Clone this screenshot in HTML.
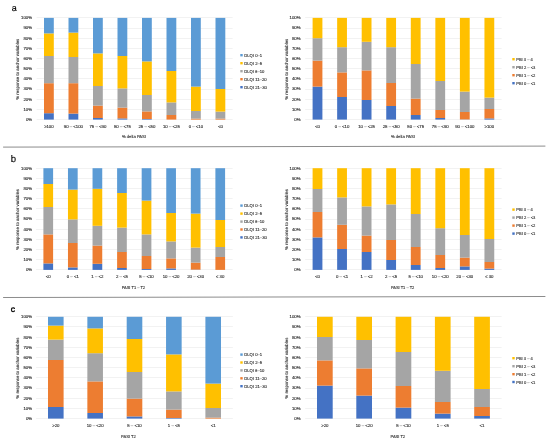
<!DOCTYPE html>
<html lang="en"><head><meta charset="utf-8"><title>Figure</title>
<style>
html,body{margin:0;padding:0;background:#fff}
svg{display:block}
text{text-rendering:geometricPrecision}
.t{font-family:"Liberation Sans",sans-serif;font-size:4.3px;fill:#2e2e2e;stroke:#2e2e2e;stroke-width:0.12px}
.p{font-family:"Liberation Sans",sans-serif;font-size:9.5px;fill:#000;stroke:#000;stroke-width:0.15px}
</style></head><body>
<svg width="550" height="443" viewBox="0 0 550 443">
<rect width="550" height="443" fill="#fff"/>
<line x1="36.6" x2="232.6" y1="119.5" y2="119.5" stroke="#f2f2f2" stroke-width="1"/>
<text x="32.1" y="121" text-anchor="end" class="t">0%</text>
<line x1="36.6" x2="232.6" y1="109.5" y2="109.5" stroke="#f2f2f2" stroke-width="1"/>
<text x="32.1" y="110.83" text-anchor="end" class="t">10%</text>
<line x1="36.6" x2="232.6" y1="99.5" y2="99.5" stroke="#f2f2f2" stroke-width="1"/>
<text x="32.1" y="100.66" text-anchor="end" class="t">20%</text>
<line x1="36.6" x2="232.6" y1="89.5" y2="89.5" stroke="#f2f2f2" stroke-width="1"/>
<text x="32.1" y="90.49" text-anchor="end" class="t">30%</text>
<line x1="36.6" x2="232.6" y1="78.5" y2="78.5" stroke="#f2f2f2" stroke-width="1"/>
<text x="32.1" y="80.32" text-anchor="end" class="t">40%</text>
<line x1="36.6" x2="232.6" y1="68.5" y2="68.5" stroke="#f2f2f2" stroke-width="1"/>
<text x="32.1" y="70.15" text-anchor="end" class="t">50%</text>
<line x1="36.6" x2="232.6" y1="58.5" y2="58.5" stroke="#f2f2f2" stroke-width="1"/>
<text x="32.1" y="59.98" text-anchor="end" class="t">60%</text>
<line x1="36.6" x2="232.6" y1="48.5" y2="48.5" stroke="#f2f2f2" stroke-width="1"/>
<text x="32.1" y="49.81" text-anchor="end" class="t">70%</text>
<line x1="36.6" x2="232.6" y1="38.5" y2="38.5" stroke="#f2f2f2" stroke-width="1"/>
<text x="32.1" y="39.64" text-anchor="end" class="t">80%</text>
<line x1="36.6" x2="232.6" y1="28.5" y2="28.5" stroke="#f2f2f2" stroke-width="1"/>
<text x="32.1" y="29.47" text-anchor="end" class="t">90%</text>
<line x1="36.6" x2="232.6" y1="17.5" y2="17.5" stroke="#f2f2f2" stroke-width="1"/>
<text x="32.1" y="19.3" text-anchor="end" class="t">100%</text>
<rect x="44" y="113.2" width="9.8" height="6.4" fill="#4472c4"/>
<rect x="44" y="83.2" width="9.8" height="30" fill="#ed7d31"/>
<rect x="44" y="56" width="9.8" height="27.2" fill="#a5a5a5"/>
<rect x="44" y="33.4" width="9.8" height="22.6" fill="#ffc000"/>
<rect x="44" y="17.9" width="9.8" height="15.5" fill="#5b9bd5"/>
<text x="48.9" y="127.65" text-anchor="middle" class="t">≥100</text>
<rect x="68.5" y="113.6" width="9.8" height="6" fill="#4472c4"/>
<rect x="68.5" y="83.2" width="9.8" height="30.4" fill="#ed7d31"/>
<rect x="68.5" y="57" width="9.8" height="26.2" fill="#a5a5a5"/>
<rect x="68.5" y="32.6" width="9.8" height="24.4" fill="#ffc000"/>
<rect x="68.5" y="17.9" width="9.8" height="14.7" fill="#5b9bd5"/>
<text x="73.4" y="127.65" text-anchor="middle" class="t">90 – &lt;100</text>
<rect x="93" y="118" width="9.8" height="1.6" fill="#4472c4"/>
<rect x="93" y="105.6" width="9.8" height="12.4" fill="#ed7d31"/>
<rect x="93" y="86" width="9.8" height="19.6" fill="#a5a5a5"/>
<rect x="93" y="53.4" width="9.8" height="32.6" fill="#ffc000"/>
<rect x="93" y="17.9" width="9.8" height="35.5" fill="#5b9bd5"/>
<text x="97.9" y="127.65" text-anchor="middle" class="t">75 – &lt;90</text>
<rect x="117.5" y="118.4" width="9.8" height="1.2" fill="#4472c4"/>
<rect x="117.5" y="107.6" width="9.8" height="10.8" fill="#ed7d31"/>
<rect x="117.5" y="88.4" width="9.8" height="19.2" fill="#a5a5a5"/>
<rect x="117.5" y="56" width="9.8" height="32.4" fill="#ffc000"/>
<rect x="117.5" y="17.9" width="9.8" height="38.1" fill="#5b9bd5"/>
<text x="122.4" y="127.65" text-anchor="middle" class="t">50 – &lt;75</text>
<rect x="142" y="119" width="9.8" height="0.6" fill="#4472c4"/>
<rect x="142" y="111.4" width="9.8" height="7.6" fill="#ed7d31"/>
<rect x="142" y="95" width="9.8" height="16.4" fill="#a5a5a5"/>
<rect x="142" y="61.4" width="9.8" height="33.6" fill="#ffc000"/>
<rect x="142" y="17.9" width="9.8" height="43.5" fill="#5b9bd5"/>
<text x="146.9" y="127.65" text-anchor="middle" class="t">25 – &lt;50</text>
<rect x="166.5" y="115" width="9.8" height="4.6" fill="#ed7d31"/>
<rect x="166.5" y="102.4" width="9.8" height="12.6" fill="#a5a5a5"/>
<rect x="166.5" y="71" width="9.8" height="31.4" fill="#ffc000"/>
<rect x="166.5" y="17.9" width="9.8" height="53.1" fill="#5b9bd5"/>
<text x="171.4" y="127.65" text-anchor="middle" class="t">10 – &lt;25</text>
<rect x="191" y="118.6" width="9.8" height="1" fill="#ed7d31"/>
<rect x="191" y="111" width="9.8" height="7.6" fill="#a5a5a5"/>
<rect x="191" y="86.6" width="9.8" height="24.4" fill="#ffc000"/>
<rect x="191" y="17.9" width="9.8" height="68.7" fill="#5b9bd5"/>
<text x="195.9" y="127.65" text-anchor="middle" class="t">0 – &lt;10</text>
<rect x="215.5" y="118.6" width="9.8" height="1" fill="#ed7d31"/>
<rect x="215.5" y="111.6" width="9.8" height="7" fill="#a5a5a5"/>
<rect x="215.5" y="89" width="9.8" height="22.6" fill="#ffc000"/>
<rect x="215.5" y="17.9" width="9.8" height="71.1" fill="#5b9bd5"/>
<text x="220.4" y="127.65" text-anchor="middle" class="t">&lt;0</text>
<text transform="translate(18.5 69.25) rotate(-90)" text-anchor="middle" class="t" textLength="61" lengthAdjust="spacingAndGlyphs">% response to anchor variables</text>
<text x="134" y="138.1" text-anchor="middle" class="t" textLength="24" lengthAdjust="spacingAndGlyphs">% delta PASI</text>
<rect x="240.3" y="54" width="2.4" height="2.4" fill="#5b9bd5"/>
<text x="244.2" y="56.8" class="t" textLength="18" lengthAdjust="spacingAndGlyphs">DLQI 0–1</text>
<rect x="240.3" y="62" width="2.4" height="2.4" fill="#ffc000"/>
<text x="244.2" y="64.8" class="t" textLength="18" lengthAdjust="spacingAndGlyphs">DLQI 2–5</text>
<rect x="240.3" y="70" width="2.4" height="2.4" fill="#a5a5a5"/>
<text x="244.2" y="72.8" class="t" textLength="20.2" lengthAdjust="spacingAndGlyphs">DLQI 6–10</text>
<rect x="240.3" y="78" width="2.4" height="2.4" fill="#ed7d31"/>
<text x="244.2" y="80.8" class="t" textLength="22.4" lengthAdjust="spacingAndGlyphs">DLQI 11–20</text>
<rect x="240.3" y="86" width="2.4" height="2.4" fill="#4472c4"/>
<text x="244.2" y="88.8" class="t" textLength="22.6" lengthAdjust="spacingAndGlyphs">DLQI 21–30</text>
<line x1="305.2" x2="501.6" y1="119.5" y2="119.5" stroke="#f2f2f2" stroke-width="1"/>
<text x="300.5" y="121" text-anchor="end" class="t">0%</text>
<line x1="305.2" x2="501.6" y1="109.5" y2="109.5" stroke="#f2f2f2" stroke-width="1"/>
<text x="300.5" y="110.83" text-anchor="end" class="t">10%</text>
<line x1="305.2" x2="501.6" y1="99.5" y2="99.5" stroke="#f2f2f2" stroke-width="1"/>
<text x="300.5" y="100.66" text-anchor="end" class="t">20%</text>
<line x1="305.2" x2="501.6" y1="89.5" y2="89.5" stroke="#f2f2f2" stroke-width="1"/>
<text x="300.5" y="90.49" text-anchor="end" class="t">30%</text>
<line x1="305.2" x2="501.6" y1="78.5" y2="78.5" stroke="#f2f2f2" stroke-width="1"/>
<text x="300.5" y="80.32" text-anchor="end" class="t">40%</text>
<line x1="305.2" x2="501.6" y1="68.5" y2="68.5" stroke="#f2f2f2" stroke-width="1"/>
<text x="300.5" y="70.15" text-anchor="end" class="t">50%</text>
<line x1="305.2" x2="501.6" y1="58.5" y2="58.5" stroke="#f2f2f2" stroke-width="1"/>
<text x="300.5" y="59.98" text-anchor="end" class="t">60%</text>
<line x1="305.2" x2="501.6" y1="48.5" y2="48.5" stroke="#f2f2f2" stroke-width="1"/>
<text x="300.5" y="49.81" text-anchor="end" class="t">70%</text>
<line x1="305.2" x2="501.6" y1="38.5" y2="38.5" stroke="#f2f2f2" stroke-width="1"/>
<text x="300.5" y="39.64" text-anchor="end" class="t">80%</text>
<line x1="305.2" x2="501.6" y1="28.5" y2="28.5" stroke="#f2f2f2" stroke-width="1"/>
<text x="300.5" y="29.47" text-anchor="end" class="t">90%</text>
<line x1="305.2" x2="501.6" y1="17.5" y2="17.5" stroke="#f2f2f2" stroke-width="1"/>
<text x="300.5" y="19.3" text-anchor="end" class="t">100%</text>
<rect x="312.6" y="86.6" width="9.8" height="33" fill="#4472c4"/>
<rect x="312.6" y="60.6" width="9.8" height="26" fill="#ed7d31"/>
<rect x="312.6" y="38.2" width="9.8" height="22.4" fill="#a5a5a5"/>
<rect x="312.6" y="17.9" width="9.8" height="20.3" fill="#ffc000"/>
<text x="317.5" y="127.65" text-anchor="middle" class="t">&lt;0</text>
<rect x="337.15" y="97" width="9.8" height="22.6" fill="#4472c4"/>
<rect x="337.15" y="72.4" width="9.8" height="24.6" fill="#ed7d31"/>
<rect x="337.15" y="47.2" width="9.8" height="25.2" fill="#a5a5a5"/>
<rect x="337.15" y="17.9" width="9.8" height="29.3" fill="#ffc000"/>
<text x="342.05" y="127.65" text-anchor="middle" class="t">0 – &lt;10</text>
<rect x="361.7" y="100" width="9.8" height="19.6" fill="#4472c4"/>
<rect x="361.7" y="70.4" width="9.8" height="29.6" fill="#ed7d31"/>
<rect x="361.7" y="41.8" width="9.8" height="28.6" fill="#a5a5a5"/>
<rect x="361.7" y="17.9" width="9.8" height="23.9" fill="#ffc000"/>
<text x="366.6" y="127.65" text-anchor="middle" class="t">10 – &lt;25</text>
<rect x="386.25" y="106" width="9.8" height="13.6" fill="#4472c4"/>
<rect x="386.25" y="83" width="9.8" height="23" fill="#ed7d31"/>
<rect x="386.25" y="47.2" width="9.8" height="35.8" fill="#a5a5a5"/>
<rect x="386.25" y="17.9" width="9.8" height="29.3" fill="#ffc000"/>
<text x="391.15" y="127.65" text-anchor="middle" class="t">25 – &lt;50</text>
<rect x="410.8" y="115" width="9.8" height="4.6" fill="#4472c4"/>
<rect x="410.8" y="98.6" width="9.8" height="16.4" fill="#ed7d31"/>
<rect x="410.8" y="64" width="9.8" height="34.6" fill="#a5a5a5"/>
<rect x="410.8" y="17.9" width="9.8" height="46.1" fill="#ffc000"/>
<text x="415.7" y="127.65" text-anchor="middle" class="t">50 – &lt;75</text>
<rect x="435.35" y="118" width="9.8" height="1.6" fill="#4472c4"/>
<rect x="435.35" y="110" width="9.8" height="8" fill="#ed7d31"/>
<rect x="435.35" y="81" width="9.8" height="29" fill="#a5a5a5"/>
<rect x="435.35" y="17.9" width="9.8" height="63.1" fill="#ffc000"/>
<text x="440.25" y="127.65" text-anchor="middle" class="t">75 – &lt;90</text>
<rect x="459.9" y="119.4" width="9.8" height="0.2" fill="#4472c4"/>
<rect x="459.9" y="112" width="9.8" height="7.4" fill="#ed7d31"/>
<rect x="459.9" y="91.6" width="9.8" height="20.4" fill="#a5a5a5"/>
<rect x="459.9" y="17.9" width="9.8" height="73.7" fill="#ffc000"/>
<text x="464.8" y="127.65" text-anchor="middle" class="t">90 – &lt;100</text>
<rect x="484.45" y="118.4" width="9.8" height="1.2" fill="#4472c4"/>
<rect x="484.45" y="109" width="9.8" height="9.4" fill="#ed7d31"/>
<rect x="484.45" y="97.6" width="9.8" height="11.4" fill="#a5a5a5"/>
<rect x="484.45" y="17.9" width="9.8" height="79.7" fill="#ffc000"/>
<text x="489.35" y="127.65" text-anchor="middle" class="t">≥100</text>
<text transform="translate(287.8 69.25) rotate(-90)" text-anchor="middle" class="t" textLength="61" lengthAdjust="spacingAndGlyphs">% response to anchor variables</text>
<text x="403" y="138.1" text-anchor="middle" class="t" textLength="24" lengthAdjust="spacingAndGlyphs">% delta PASI</text>
<rect x="512.3" y="58" width="2.4" height="2.4" fill="#ffc000"/>
<text x="516.2" y="60.8" class="t" textLength="16.6" lengthAdjust="spacingAndGlyphs">PBI 3 – 4</text>
<rect x="512.3" y="66" width="2.4" height="2.4" fill="#a5a5a5"/>
<text x="516.2" y="68.8" class="t" textLength="19.2" lengthAdjust="spacingAndGlyphs">PBI 2 – &lt;3</text>
<rect x="512.3" y="74" width="2.4" height="2.4" fill="#ed7d31"/>
<text x="516.2" y="76.8" class="t" textLength="19.2" lengthAdjust="spacingAndGlyphs">PBI 1 – &lt;2</text>
<rect x="512.3" y="82" width="2.4" height="2.4" fill="#4472c4"/>
<text x="516.2" y="84.8" class="t" textLength="19.2" lengthAdjust="spacingAndGlyphs">PBI 0 – &lt;1</text>
<line x1="36" x2="232.6" y1="269.5" y2="269.5" stroke="#f2f2f2" stroke-width="1"/>
<text x="32.1" y="271.3" text-anchor="end" class="t">0%</text>
<line x1="36" x2="232.6" y1="259.5" y2="259.5" stroke="#f2f2f2" stroke-width="1"/>
<text x="32.1" y="261.13" text-anchor="end" class="t">10%</text>
<line x1="36" x2="232.6" y1="249.5" y2="249.5" stroke="#f2f2f2" stroke-width="1"/>
<text x="32.1" y="250.96" text-anchor="end" class="t">20%</text>
<line x1="36" x2="232.6" y1="239.5" y2="239.5" stroke="#f2f2f2" stroke-width="1"/>
<text x="32.1" y="240.79" text-anchor="end" class="t">30%</text>
<line x1="36" x2="232.6" y1="229.5" y2="229.5" stroke="#f2f2f2" stroke-width="1"/>
<text x="32.1" y="230.62" text-anchor="end" class="t">40%</text>
<line x1="36" x2="232.6" y1="219.5" y2="219.5" stroke="#f2f2f2" stroke-width="1"/>
<text x="32.1" y="220.45" text-anchor="end" class="t">50%</text>
<line x1="36" x2="232.6" y1="208.5" y2="208.5" stroke="#f2f2f2" stroke-width="1"/>
<text x="32.1" y="210.28" text-anchor="end" class="t">60%</text>
<line x1="36" x2="232.6" y1="198.5" y2="198.5" stroke="#f2f2f2" stroke-width="1"/>
<text x="32.1" y="200.11" text-anchor="end" class="t">70%</text>
<line x1="36" x2="232.6" y1="188.5" y2="188.5" stroke="#f2f2f2" stroke-width="1"/>
<text x="32.1" y="189.94" text-anchor="end" class="t">80%</text>
<line x1="36" x2="232.6" y1="178.5" y2="178.5" stroke="#f2f2f2" stroke-width="1"/>
<text x="32.1" y="179.77" text-anchor="end" class="t">90%</text>
<line x1="36" x2="232.6" y1="168.5" y2="168.5" stroke="#f2f2f2" stroke-width="1"/>
<text x="32.1" y="169.6" text-anchor="end" class="t">100%</text>
<rect x="43.4" y="263.4" width="9.7" height="6.5" fill="#4472c4"/>
<rect x="43.4" y="234.4" width="9.7" height="29" fill="#ed7d31"/>
<rect x="43.4" y="207" width="9.7" height="27.4" fill="#a5a5a5"/>
<rect x="43.4" y="184" width="9.7" height="23" fill="#ffc000"/>
<rect x="43.4" y="168.2" width="9.7" height="15.8" fill="#5b9bd5"/>
<text x="48.25" y="277.65" text-anchor="middle" class="t">&lt;0</text>
<rect x="67.97" y="267.4" width="9.7" height="2.5" fill="#4472c4"/>
<rect x="67.97" y="243" width="9.7" height="24.4" fill="#ed7d31"/>
<rect x="67.97" y="219.4" width="9.7" height="23.6" fill="#a5a5a5"/>
<rect x="67.97" y="189.6" width="9.7" height="29.8" fill="#ffc000"/>
<rect x="67.97" y="168.2" width="9.7" height="21.4" fill="#5b9bd5"/>
<text x="72.82" y="277.65" text-anchor="middle" class="t">0 – &lt;1</text>
<rect x="92.54" y="263.8" width="9.7" height="6.1" fill="#4472c4"/>
<rect x="92.54" y="245.6" width="9.7" height="18.2" fill="#ed7d31"/>
<rect x="92.54" y="225.8" width="9.7" height="19.8" fill="#a5a5a5"/>
<rect x="92.54" y="188.8" width="9.7" height="37" fill="#ffc000"/>
<rect x="92.54" y="168.2" width="9.7" height="20.6" fill="#5b9bd5"/>
<text x="97.39" y="277.65" text-anchor="middle" class="t">1 – &lt;2</text>
<rect x="117.11" y="268" width="9.7" height="1.9" fill="#4472c4"/>
<rect x="117.11" y="252" width="9.7" height="16" fill="#ed7d31"/>
<rect x="117.11" y="227.6" width="9.7" height="24.4" fill="#a5a5a5"/>
<rect x="117.11" y="193" width="9.7" height="34.6" fill="#ffc000"/>
<rect x="117.11" y="168.2" width="9.7" height="24.8" fill="#5b9bd5"/>
<text x="121.96" y="277.65" text-anchor="middle" class="t">2 – &lt;5</text>
<rect x="141.68" y="269" width="9.7" height="0.9" fill="#4472c4"/>
<rect x="141.68" y="256" width="9.7" height="13" fill="#ed7d31"/>
<rect x="141.68" y="234.4" width="9.7" height="21.6" fill="#a5a5a5"/>
<rect x="141.68" y="200.6" width="9.7" height="33.8" fill="#ffc000"/>
<rect x="141.68" y="168.2" width="9.7" height="32.4" fill="#5b9bd5"/>
<text x="146.53" y="277.65" text-anchor="middle" class="t">5 – &lt;10</text>
<rect x="166.25" y="268.4" width="9.7" height="1.5" fill="#4472c4"/>
<rect x="166.25" y="258.4" width="9.7" height="10" fill="#ed7d31"/>
<rect x="166.25" y="241.4" width="9.7" height="17" fill="#a5a5a5"/>
<rect x="166.25" y="213" width="9.7" height="28.4" fill="#ffc000"/>
<rect x="166.25" y="168.2" width="9.7" height="44.8" fill="#5b9bd5"/>
<text x="171.1" y="277.65" text-anchor="middle" class="t">10 – &lt;20</text>
<rect x="190.82" y="269.6" width="9.7" height="0.3" fill="#4472c4"/>
<rect x="190.82" y="262.6" width="9.7" height="7" fill="#ed7d31"/>
<rect x="190.82" y="247.6" width="9.7" height="15" fill="#a5a5a5"/>
<rect x="190.82" y="213.6" width="9.7" height="34" fill="#ffc000"/>
<rect x="190.82" y="168.2" width="9.7" height="45.4" fill="#5b9bd5"/>
<text x="195.67" y="277.65" text-anchor="middle" class="t">20 – &lt;30</text>
<rect x="215.39" y="257" width="9.7" height="12.9" fill="#ed7d31"/>
<rect x="215.39" y="247" width="9.7" height="10" fill="#a5a5a5"/>
<rect x="215.39" y="220" width="9.7" height="27" fill="#ffc000"/>
<rect x="215.39" y="168.2" width="9.7" height="51.8" fill="#5b9bd5"/>
<text x="220.24" y="277.65" text-anchor="middle" class="t">≤ 30</text>
<text transform="translate(18.5 219.55) rotate(-90)" text-anchor="middle" class="t" textLength="61" lengthAdjust="spacingAndGlyphs">% response to anchor variables</text>
<text x="133.4" y="288.7" text-anchor="middle" class="t" textLength="23.4" lengthAdjust="spacingAndGlyphs">PASI T1 – T2</text>
<rect x="240.3" y="204.4" width="2.4" height="2.4" fill="#5b9bd5"/>
<text x="244.2" y="207.2" class="t" textLength="18" lengthAdjust="spacingAndGlyphs">DLQI 0–1</text>
<rect x="240.3" y="212.4" width="2.4" height="2.4" fill="#ffc000"/>
<text x="244.2" y="215.2" class="t" textLength="18" lengthAdjust="spacingAndGlyphs">DLQI 2–5</text>
<rect x="240.3" y="220.4" width="2.4" height="2.4" fill="#a5a5a5"/>
<text x="244.2" y="223.2" class="t" textLength="20.2" lengthAdjust="spacingAndGlyphs">DLQI 6–10</text>
<rect x="240.3" y="228.3" width="2.4" height="2.4" fill="#ed7d31"/>
<text x="244.2" y="231.1" class="t" textLength="22.4" lengthAdjust="spacingAndGlyphs">DLQI 11–20</text>
<rect x="240.3" y="236.2" width="2.4" height="2.4" fill="#4472c4"/>
<text x="244.2" y="239" class="t" textLength="22.6" lengthAdjust="spacingAndGlyphs">DLQI 21–30</text>
<line x1="305.2" x2="501.6" y1="269.5" y2="269.5" stroke="#f2f2f2" stroke-width="1"/>
<text x="300.5" y="271.3" text-anchor="end" class="t">0%</text>
<line x1="305.2" x2="501.6" y1="259.5" y2="259.5" stroke="#f2f2f2" stroke-width="1"/>
<text x="300.5" y="261.13" text-anchor="end" class="t">10%</text>
<line x1="305.2" x2="501.6" y1="249.5" y2="249.5" stroke="#f2f2f2" stroke-width="1"/>
<text x="300.5" y="250.96" text-anchor="end" class="t">20%</text>
<line x1="305.2" x2="501.6" y1="239.5" y2="239.5" stroke="#f2f2f2" stroke-width="1"/>
<text x="300.5" y="240.79" text-anchor="end" class="t">30%</text>
<line x1="305.2" x2="501.6" y1="229.5" y2="229.5" stroke="#f2f2f2" stroke-width="1"/>
<text x="300.5" y="230.62" text-anchor="end" class="t">40%</text>
<line x1="305.2" x2="501.6" y1="219.5" y2="219.5" stroke="#f2f2f2" stroke-width="1"/>
<text x="300.5" y="220.45" text-anchor="end" class="t">50%</text>
<line x1="305.2" x2="501.6" y1="208.5" y2="208.5" stroke="#f2f2f2" stroke-width="1"/>
<text x="300.5" y="210.28" text-anchor="end" class="t">60%</text>
<line x1="305.2" x2="501.6" y1="198.5" y2="198.5" stroke="#f2f2f2" stroke-width="1"/>
<text x="300.5" y="200.11" text-anchor="end" class="t">70%</text>
<line x1="305.2" x2="501.6" y1="188.5" y2="188.5" stroke="#f2f2f2" stroke-width="1"/>
<text x="300.5" y="189.94" text-anchor="end" class="t">80%</text>
<line x1="305.2" x2="501.6" y1="178.5" y2="178.5" stroke="#f2f2f2" stroke-width="1"/>
<text x="300.5" y="179.77" text-anchor="end" class="t">90%</text>
<line x1="305.2" x2="501.6" y1="168.5" y2="168.5" stroke="#f2f2f2" stroke-width="1"/>
<text x="300.5" y="169.6" text-anchor="end" class="t">100%</text>
<rect x="312.6" y="237.4" width="9.8" height="32.5" fill="#4472c4"/>
<rect x="312.6" y="212" width="9.8" height="25.4" fill="#ed7d31"/>
<rect x="312.6" y="189" width="9.8" height="23" fill="#a5a5a5"/>
<rect x="312.6" y="168.2" width="9.8" height="20.8" fill="#ffc000"/>
<text x="317.5" y="277.65" text-anchor="middle" class="t">&lt;0</text>
<rect x="337.15" y="249" width="9.8" height="20.9" fill="#4472c4"/>
<rect x="337.15" y="224.8" width="9.8" height="24.2" fill="#ed7d31"/>
<rect x="337.15" y="197.4" width="9.8" height="27.4" fill="#a5a5a5"/>
<rect x="337.15" y="168.2" width="9.8" height="29.2" fill="#ffc000"/>
<text x="342.05" y="277.65" text-anchor="middle" class="t">0 – &lt;1</text>
<rect x="361.7" y="252" width="9.8" height="17.9" fill="#4472c4"/>
<rect x="361.7" y="235.6" width="9.8" height="16.4" fill="#ed7d31"/>
<rect x="361.7" y="206.4" width="9.8" height="29.2" fill="#a5a5a5"/>
<rect x="361.7" y="168.2" width="9.8" height="38.2" fill="#ffc000"/>
<text x="366.6" y="277.65" text-anchor="middle" class="t">1 – &lt;2</text>
<rect x="386.25" y="260" width="9.8" height="9.9" fill="#4472c4"/>
<rect x="386.25" y="240" width="9.8" height="20" fill="#ed7d31"/>
<rect x="386.25" y="204.4" width="9.8" height="35.6" fill="#a5a5a5"/>
<rect x="386.25" y="168.2" width="9.8" height="36.2" fill="#ffc000"/>
<text x="391.15" y="277.65" text-anchor="middle" class="t">2 – &lt;5</text>
<rect x="410.8" y="265" width="9.8" height="4.9" fill="#4472c4"/>
<rect x="410.8" y="247" width="9.8" height="18" fill="#ed7d31"/>
<rect x="410.8" y="214" width="9.8" height="33" fill="#a5a5a5"/>
<rect x="410.8" y="168.2" width="9.8" height="45.8" fill="#ffc000"/>
<text x="415.7" y="277.65" text-anchor="middle" class="t">5 – &lt;10</text>
<rect x="435.35" y="268" width="9.8" height="1.9" fill="#4472c4"/>
<rect x="435.35" y="255" width="9.8" height="13" fill="#ed7d31"/>
<rect x="435.35" y="228.2" width="9.8" height="26.8" fill="#a5a5a5"/>
<rect x="435.35" y="168.2" width="9.8" height="60" fill="#ffc000"/>
<text x="440.25" y="277.65" text-anchor="middle" class="t">10 – &lt;20</text>
<rect x="459.9" y="266.4" width="9.8" height="3.5" fill="#4472c4"/>
<rect x="459.9" y="257.6" width="9.8" height="8.8" fill="#ed7d31"/>
<rect x="459.9" y="235" width="9.8" height="22.6" fill="#a5a5a5"/>
<rect x="459.9" y="168.2" width="9.8" height="66.8" fill="#ffc000"/>
<text x="464.8" y="277.65" text-anchor="middle" class="t">20 – &lt;30</text>
<rect x="484.45" y="268.6" width="9.8" height="1.3" fill="#4472c4"/>
<rect x="484.45" y="262" width="9.8" height="6.6" fill="#ed7d31"/>
<rect x="484.45" y="239" width="9.8" height="23" fill="#a5a5a5"/>
<rect x="484.45" y="168.2" width="9.8" height="70.8" fill="#ffc000"/>
<text x="489.35" y="277.65" text-anchor="middle" class="t">≤ 30</text>
<text transform="translate(287.8 219.55) rotate(-90)" text-anchor="middle" class="t" textLength="61" lengthAdjust="spacingAndGlyphs">% response to anchor variables</text>
<text x="402.6" y="288.7" text-anchor="middle" class="t" textLength="23.4" lengthAdjust="spacingAndGlyphs">PASI T1 – T2</text>
<rect x="512.3" y="208.4" width="2.4" height="2.4" fill="#ffc000"/>
<text x="516.2" y="211.2" class="t" textLength="16.6" lengthAdjust="spacingAndGlyphs">PBI 3 – 4</text>
<rect x="512.3" y="216.4" width="2.4" height="2.4" fill="#a5a5a5"/>
<text x="516.2" y="219.2" class="t" textLength="19.2" lengthAdjust="spacingAndGlyphs">PBI 2 – &lt;3</text>
<rect x="512.3" y="224.4" width="2.4" height="2.4" fill="#ed7d31"/>
<text x="516.2" y="227.2" class="t" textLength="19.2" lengthAdjust="spacingAndGlyphs">PBI 1 – &lt;2</text>
<rect x="512.3" y="232.4" width="2.4" height="2.4" fill="#4472c4"/>
<text x="516.2" y="235.2" class="t" textLength="19.2" lengthAdjust="spacingAndGlyphs">PBI 0 – &lt;1</text>
<line x1="36.1" x2="232.8" y1="418.5" y2="418.5" stroke="#f2f2f2" stroke-width="1"/>
<text x="32.1" y="420" text-anchor="end" class="t">0%</text>
<line x1="36.1" x2="232.8" y1="408.5" y2="408.5" stroke="#f2f2f2" stroke-width="1"/>
<text x="32.1" y="409.82" text-anchor="end" class="t">10%</text>
<line x1="36.1" x2="232.8" y1="398.5" y2="398.5" stroke="#f2f2f2" stroke-width="1"/>
<text x="32.1" y="399.64" text-anchor="end" class="t">20%</text>
<line x1="36.1" x2="232.8" y1="388.5" y2="388.5" stroke="#f2f2f2" stroke-width="1"/>
<text x="32.1" y="389.46" text-anchor="end" class="t">30%</text>
<line x1="36.1" x2="232.8" y1="377.5" y2="377.5" stroke="#f2f2f2" stroke-width="1"/>
<text x="32.1" y="379.28" text-anchor="end" class="t">40%</text>
<line x1="36.1" x2="232.8" y1="367.5" y2="367.5" stroke="#f2f2f2" stroke-width="1"/>
<text x="32.1" y="369.1" text-anchor="end" class="t">50%</text>
<line x1="36.1" x2="232.8" y1="357.5" y2="357.5" stroke="#f2f2f2" stroke-width="1"/>
<text x="32.1" y="358.92" text-anchor="end" class="t">60%</text>
<line x1="36.1" x2="232.8" y1="347.5" y2="347.5" stroke="#f2f2f2" stroke-width="1"/>
<text x="32.1" y="348.74" text-anchor="end" class="t">70%</text>
<line x1="36.1" x2="232.8" y1="337.5" y2="337.5" stroke="#f2f2f2" stroke-width="1"/>
<text x="32.1" y="338.56" text-anchor="end" class="t">80%</text>
<line x1="36.1" x2="232.8" y1="326.5" y2="326.5" stroke="#f2f2f2" stroke-width="1"/>
<text x="32.1" y="328.38" text-anchor="end" class="t">90%</text>
<line x1="36.1" x2="232.8" y1="316.5" y2="316.5" stroke="#f2f2f2" stroke-width="1"/>
<text x="32.1" y="318.2" text-anchor="end" class="t">100%</text>
<rect x="48" y="407" width="15.6" height="11.6" fill="#4472c4"/>
<rect x="48" y="360" width="15.6" height="47" fill="#ed7d31"/>
<rect x="48" y="339.6" width="15.6" height="20.4" fill="#a5a5a5"/>
<rect x="48" y="325.6" width="15.6" height="14" fill="#ffc000"/>
<rect x="48" y="316.8" width="15.6" height="8.8" fill="#5b9bd5"/>
<text x="55.8" y="426.65" text-anchor="middle" class="t">&gt;20</text>
<rect x="87.35" y="413" width="15.6" height="5.6" fill="#4472c4"/>
<rect x="87.35" y="381.4" width="15.6" height="31.6" fill="#ed7d31"/>
<rect x="87.35" y="353.2" width="15.6" height="28.2" fill="#a5a5a5"/>
<rect x="87.35" y="328.4" width="15.6" height="24.8" fill="#ffc000"/>
<rect x="87.35" y="316.8" width="15.6" height="11.6" fill="#5b9bd5"/>
<text x="95.15" y="426.65" text-anchor="middle" class="t">10 – &lt;20</text>
<rect x="126.7" y="416.4" width="15.6" height="2.2" fill="#4472c4"/>
<rect x="126.7" y="398.6" width="15.6" height="17.8" fill="#ed7d31"/>
<rect x="126.7" y="372" width="15.6" height="26.6" fill="#a5a5a5"/>
<rect x="126.7" y="339" width="15.6" height="33" fill="#ffc000"/>
<rect x="126.7" y="316.8" width="15.6" height="22.2" fill="#5b9bd5"/>
<text x="134.5" y="426.65" text-anchor="middle" class="t">5 – &lt;10</text>
<rect x="166.05" y="418" width="15.6" height="0.6" fill="#4472c4"/>
<rect x="166.05" y="409.6" width="15.6" height="8.4" fill="#ed7d31"/>
<rect x="166.05" y="391.4" width="15.6" height="18.2" fill="#a5a5a5"/>
<rect x="166.05" y="354.4" width="15.6" height="37" fill="#ffc000"/>
<rect x="166.05" y="316.8" width="15.6" height="37.6" fill="#5b9bd5"/>
<text x="173.85" y="426.65" text-anchor="middle" class="t">1 – &lt;5</text>
<rect x="205.4" y="417.6" width="15.6" height="1" fill="#ed7d31"/>
<rect x="205.4" y="408" width="15.6" height="9.6" fill="#a5a5a5"/>
<rect x="205.4" y="383.6" width="15.6" height="24.4" fill="#ffc000"/>
<rect x="205.4" y="316.8" width="15.6" height="66.8" fill="#5b9bd5"/>
<text x="213.2" y="426.65" text-anchor="middle" class="t">&lt;1</text>
<text transform="translate(18.5 368.2) rotate(-90)" text-anchor="middle" class="t" textLength="61" lengthAdjust="spacingAndGlyphs">% response to anchor variables</text>
<text x="128.4" y="437.7" text-anchor="middle" class="t" textLength="14.6" lengthAdjust="spacingAndGlyphs">PASI T2</text>
<rect x="240.3" y="353.4" width="2.4" height="2.4" fill="#5b9bd5"/>
<text x="244.2" y="356.2" class="t" textLength="18" lengthAdjust="spacingAndGlyphs">DLQI 0–1</text>
<rect x="240.3" y="361.3" width="2.4" height="2.4" fill="#ffc000"/>
<text x="244.2" y="364.1" class="t" textLength="18" lengthAdjust="spacingAndGlyphs">DLQI 2–5</text>
<rect x="240.3" y="369.2" width="2.4" height="2.4" fill="#a5a5a5"/>
<text x="244.2" y="372" class="t" textLength="20.2" lengthAdjust="spacingAndGlyphs">DLQI 6–10</text>
<rect x="240.3" y="377.1" width="2.4" height="2.4" fill="#ed7d31"/>
<text x="244.2" y="379.9" class="t" textLength="22.4" lengthAdjust="spacingAndGlyphs">DLQI 11–20</text>
<rect x="240.3" y="385" width="2.4" height="2.4" fill="#4472c4"/>
<text x="244.2" y="387.8" class="t" textLength="22.6" lengthAdjust="spacingAndGlyphs">DLQI 21–30</text>
<line x1="305.2" x2="501.6" y1="418.5" y2="418.5" stroke="#f2f2f2" stroke-width="1"/>
<text x="300.5" y="420" text-anchor="end" class="t">0%</text>
<line x1="305.2" x2="501.6" y1="408.5" y2="408.5" stroke="#f2f2f2" stroke-width="1"/>
<text x="300.5" y="409.82" text-anchor="end" class="t">10%</text>
<line x1="305.2" x2="501.6" y1="398.5" y2="398.5" stroke="#f2f2f2" stroke-width="1"/>
<text x="300.5" y="399.64" text-anchor="end" class="t">20%</text>
<line x1="305.2" x2="501.6" y1="388.5" y2="388.5" stroke="#f2f2f2" stroke-width="1"/>
<text x="300.5" y="389.46" text-anchor="end" class="t">30%</text>
<line x1="305.2" x2="501.6" y1="377.5" y2="377.5" stroke="#f2f2f2" stroke-width="1"/>
<text x="300.5" y="379.28" text-anchor="end" class="t">40%</text>
<line x1="305.2" x2="501.6" y1="367.5" y2="367.5" stroke="#f2f2f2" stroke-width="1"/>
<text x="300.5" y="369.1" text-anchor="end" class="t">50%</text>
<line x1="305.2" x2="501.6" y1="357.5" y2="357.5" stroke="#f2f2f2" stroke-width="1"/>
<text x="300.5" y="358.92" text-anchor="end" class="t">60%</text>
<line x1="305.2" x2="501.6" y1="347.5" y2="347.5" stroke="#f2f2f2" stroke-width="1"/>
<text x="300.5" y="348.74" text-anchor="end" class="t">70%</text>
<line x1="305.2" x2="501.6" y1="337.5" y2="337.5" stroke="#f2f2f2" stroke-width="1"/>
<text x="300.5" y="338.56" text-anchor="end" class="t">80%</text>
<line x1="305.2" x2="501.6" y1="326.5" y2="326.5" stroke="#f2f2f2" stroke-width="1"/>
<text x="300.5" y="328.38" text-anchor="end" class="t">90%</text>
<line x1="305.2" x2="501.6" y1="316.5" y2="316.5" stroke="#f2f2f2" stroke-width="1"/>
<text x="300.5" y="318.2" text-anchor="end" class="t">100%</text>
<rect x="317" y="385.6" width="15.7" height="33" fill="#4472c4"/>
<rect x="317" y="360.4" width="15.7" height="25.2" fill="#ed7d31"/>
<rect x="317" y="337" width="15.7" height="23.4" fill="#a5a5a5"/>
<rect x="317" y="316.8" width="15.7" height="20.2" fill="#ffc000"/>
<text x="324.85" y="426.65" text-anchor="middle" class="t">&gt;20</text>
<rect x="356.3" y="395.6" width="15.7" height="23" fill="#4472c4"/>
<rect x="356.3" y="368.4" width="15.7" height="27.2" fill="#ed7d31"/>
<rect x="356.3" y="340" width="15.7" height="28.4" fill="#a5a5a5"/>
<rect x="356.3" y="316.8" width="15.7" height="23.2" fill="#ffc000"/>
<text x="364.15" y="426.65" text-anchor="middle" class="t">10 – &lt;20</text>
<rect x="395.6" y="407.6" width="15.7" height="11" fill="#4472c4"/>
<rect x="395.6" y="386" width="15.7" height="21.6" fill="#ed7d31"/>
<rect x="395.6" y="352" width="15.7" height="34" fill="#a5a5a5"/>
<rect x="395.6" y="316.8" width="15.7" height="35.2" fill="#ffc000"/>
<text x="403.45" y="426.65" text-anchor="middle" class="t">5 – &lt;10</text>
<rect x="434.9" y="413.6" width="15.7" height="5" fill="#4472c4"/>
<rect x="434.9" y="402" width="15.7" height="11.6" fill="#ed7d31"/>
<rect x="434.9" y="370.8" width="15.7" height="31.2" fill="#a5a5a5"/>
<rect x="434.9" y="316.8" width="15.7" height="54" fill="#ffc000"/>
<text x="442.75" y="426.65" text-anchor="middle" class="t">1 – &lt;5</text>
<rect x="474.2" y="416" width="15.7" height="2.6" fill="#4472c4"/>
<rect x="474.2" y="407" width="15.7" height="9" fill="#ed7d31"/>
<rect x="474.2" y="389" width="15.7" height="18" fill="#a5a5a5"/>
<rect x="474.2" y="316.8" width="15.7" height="72.2" fill="#ffc000"/>
<text x="482.05" y="426.65" text-anchor="middle" class="t">&lt;1</text>
<text transform="translate(287.8 368.2) rotate(-90)" text-anchor="middle" class="t" textLength="61" lengthAdjust="spacingAndGlyphs">% response to anchor variables</text>
<text x="397.8" y="437.7" text-anchor="middle" class="t" textLength="14.6" lengthAdjust="spacingAndGlyphs">PASI T2</text>
<rect x="512.3" y="357" width="2.4" height="2.4" fill="#ffc000"/>
<text x="516.2" y="359.8" class="t" textLength="16.6" lengthAdjust="spacingAndGlyphs">PBI 3 – 4</text>
<rect x="512.3" y="365" width="2.4" height="2.4" fill="#a5a5a5"/>
<text x="516.2" y="367.8" class="t" textLength="19.2" lengthAdjust="spacingAndGlyphs">PBI 2 – &lt;3</text>
<rect x="512.3" y="373" width="2.4" height="2.4" fill="#ed7d31"/>
<text x="516.2" y="375.8" class="t" textLength="19.2" lengthAdjust="spacingAndGlyphs">PBI 1 – &lt;2</text>
<rect x="512.3" y="380.8" width="2.4" height="2.4" fill="#4472c4"/>
<text x="516.2" y="383.6" class="t" textLength="19.2" lengthAdjust="spacingAndGlyphs">PBI 0 – &lt;1</text>
<line x1="3.1" y1="147.1" x2="545.4" y2="146.1" stroke="#8c8c8c" stroke-width="1"/>
<line x1="3.1" y1="297.5" x2="545.4" y2="296.5" stroke="#8c8c8c" stroke-width="1"/>
<text x="11.7" y="11" class="p" style="font-size:9px">a</text>
<text x="10.8" y="162.4" class="p">b</text>
<text x="10.8" y="311.8" class="p" style="font-size:8.6px;stroke-width:0.4px">c</text>
</svg>
</body></html>
